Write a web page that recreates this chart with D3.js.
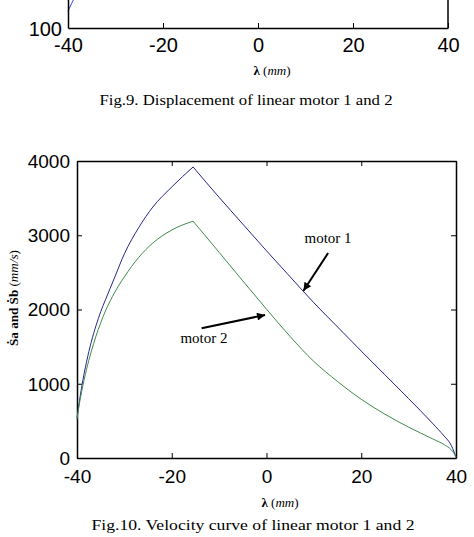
<!DOCTYPE html>
<html lang="en">
<head>
<meta charset="utf-8">
<title>Velocity curve of linear motor 1 and 2</title>
<script src="https://d3js.org/d3.v7.min.js"></script>
<style>
  body { margin: 0; background: #ffffff; }
  svg { display: block; }
  .tick text { font-family: "Liberation Sans", Arial, sans-serif; fill: #000; }
  .serif { font-family: "Liberation Serif", "Times New Roman", serif; fill: #000; }
</style>
</head>
<body>
<script>
// tick values shared by both panels
var lambdaTicks = [-40, -20, 0, 20, 40];
var speedTicks = [0, 1000, 2000, 3000, 4000];

// Fig.9 fragment (only the bottom of that plot is in view)
var dispLambda = [-40, -39.5, -39, -38, -37];
var dispMotor1 = [141, 155, 167, 190, 210];

// Fig.10 velocity curves
var lambda = [-40, -39.5, -39, -38, -37, -36, -35, -34, -33, -32, -30, -27, -24, -20, -15.5,
              -10, -5, 0, 5, 10, 15, 20, 25, 30, 35, 37.5, 39, 39.6, 40];
var motor1 = [540, 760, 960, 1290, 1560, 1780, 1970, 2130, 2285, 2440, 2750, 3100, 3380, 3650, 3920,
              3510, 3150, 2790, 2440, 2090, 1765, 1440, 1120, 800, 470, 295, 170, 80, 10];
var motor2 = [520, 730, 900, 1190, 1430, 1640, 1820, 1980, 2115, 2235, 2440, 2700, 2895, 3070, 3190,
              2770, 2385, 2005, 1635, 1300, 1030, 790, 590, 415, 260, 180, 110, 60, 15];
var peakIndex = 14;

// arrow annotations in data units: [tail, tip], and label anchors
var labels = ["motor 1", "motor 2"];
var arrowTail = [[13.0, 2760], [-13.7, 1747]];
var arrowTip = [[7.8, 2253], [-0.3, 1926]];
var labelAt = [[13.0, 2896], [-13.2, 1549]];

var width = 474, height = 537;

var svg = d3.select("body").append("svg")
    .attr("width", width)
    .attr("height", height);

var defs = svg.append("defs");
defs.append("marker")
    .attr("id", "head")
    .attr("viewBox", "0 0 10 10")
    .attr("refX", 10).attr("refY", 5)
    .attr("markerWidth", 6).attr("markerHeight", 4)
    .attr("markerUnits", "strokeWidth")
    .attr("orient", "auto")
  .append("path")
    .attr("d", "M0,0 L10,5 L0,10 Z")
    .attr("fill", "#000");

// ---------- top panel (Fig.9, cut off) ----------
var xTop = d3.scaleLinear().domain([-40, 40]).range([68, 448]);
var yTop = d3.scaleLinear().domain([100, 200]).range([28, -12]);

var topPanel = svg.append("g");

topPanel.append("path")
    .datum(d3.zip(dispLambda, dispMotor1))
    .attr("fill", "none")
    .attr("stroke", "#3a3ac8")
    .attr("stroke-width", 1)
    .attr("d", d3.line().x(d => xTop(d[0])).y(d => yTop(d[1])).curve(d3.curveMonotoneX));

topPanel.append("g")
    .attr("transform", "translate(0," + yTop(100) + ")")
    .call(d3.axisBottom(xTop).tickValues(lambdaTicks).tickFormat(d => String(d))
        .tickSizeInner(-5).tickSizeOuter(0).tickPadding(10))
    .call(g => g.selectAll("text").attr("font-size", 20))
    .call(g => g.select(".domain").attr("stroke-width", 1.5));

topPanel.append("g")
    .attr("transform", "translate(" + xTop(-40) + ",0)")
    .call(d3.axisLeft(yTop).tickValues([100]).tickSizeInner(0).tickSizeOuter(0).tickPadding(6))
    .call(g => g.selectAll("text").attr("font-size", 20).attr("dy", "0.35em"))
    .call(g => g.select(".domain").attr("stroke-width", 1.5));

topPanel.append("line")
    .attr("x1", xTop(40)).attr("x2", xTop(40))
    .attr("y1", 0).attr("y2", yTop(100))
    .attr("stroke", "#000").attr("stroke-width", 1.5);

topPanel.append("text").attr("class", "serif")
    .attr("x", 272).attr("y", 75)
    .attr("text-anchor", "middle").attr("font-size", 13)
    .call(t => {
      t.append("tspan").attr("font-weight", "bold").text("λ");
      t.append("tspan").text(" (");
      t.append("tspan").attr("font-style", "italic").text("mm");
      t.append("tspan").text(")");
    });

topPanel.append("text").attr("class", "serif")
    .attr("x", 246).attr("y", 105)
    .attr("text-anchor", "middle").attr("font-size", 15)
    .attr("textLength", 293).attr("lengthAdjust", "spacingAndGlyphs")
    .text("Fig.9. Displacement of linear motor 1 and 2");

// ---------- bottom panel (Fig.10) ----------
var x = d3.scaleLinear().domain([-40, 40]).range([77, 456]);
var y = d3.scaleLinear().domain([0, 4000]).range([458, 161]);

var plot = svg.append("g");

// inner ticks on the top and right edges (mirrored box)
plot.append("g")
    .attr("transform", "translate(0," + y(4000) + ")")
    .call(d3.axisTop(x).tickValues(lambdaTicks).tickFormat("").tickSizeInner(-5).tickSizeOuter(0))
    .call(g => g.select(".domain").attr("stroke-width", 1.5));

plot.append("g")
    .attr("transform", "translate(" + x(40) + ",0)")
    .call(d3.axisRight(y).tickValues(speedTicks).tickFormat("").tickSizeInner(-5).tickSizeOuter(0))
    .call(g => g.select(".domain").attr("stroke-width", 1.5));

plot.append("g")
    .attr("transform", "translate(0," + y(0) + ")")
    .call(d3.axisBottom(x).tickValues(lambdaTicks).tickFormat(d => String(d))
        .tickSizeInner(-5).tickSizeOuter(0).tickPadding(12))
    .call(g => g.selectAll("text").attr("font-size", 19))
    .call(g => g.select(".domain").attr("stroke-width", 1.5));

plot.append("g")
    .attr("transform", "translate(" + x(-40) + ",0)")
    .call(d3.axisLeft(y).tickValues(speedTicks).tickFormat(d => String(d))
        .tickSizeInner(-5).tickSizeOuter(0).tickPadding(7))
    .call(g => g.selectAll("text").attr("font-size", 19).attr("dy", "0.34em"))
    .call(g => g.select(".domain").attr("stroke-width", 1.5));

// curves: rising and falling halves drawn separately so the peak stays sharp
var line = d3.line()
    .x(d => x(d[0]))
    .y(d => y(d[1]))
    .curve(d3.curveMonotoneX);

var series = [
  { values: motor1, color: "#26268c" },
  { values: motor2, color: "#3f8a4c" }
];

series.forEach(function(s) {
  var pts = d3.zip(lambda, s.values);
  [pts.slice(0, peakIndex + 1), pts.slice(peakIndex)].forEach(function(part) {
    plot.append("path")
        .datum(part)
        .attr("fill", "none")
        .attr("stroke", s.color)
        .attr("stroke-width", 1)
        .attr("d", line);
  });
});

// arrows and labels
labels.forEach(function(name, i) {
  plot.append("line")
      .attr("x1", x(arrowTail[i][0])).attr("y1", y(arrowTail[i][1]))
      .attr("x2", x(arrowTip[i][0])).attr("y2", y(arrowTip[i][1]))
      .attr("stroke", "#000").attr("stroke-width", 2)
      .attr("marker-end", "url(#head)");
  plot.append("text").attr("class", "serif")
      .attr("x", x(labelAt[i][0])).attr("y", y(labelAt[i][1]))
      .attr("text-anchor", "middle").attr("font-size", 15)
      .text(name);
});

// axis titles and caption
plot.append("text").attr("class", "serif")
    .attr("x", 280).attr("y", 507)
    .attr("text-anchor", "middle").attr("font-size", 13)
    .call(t => {
      t.append("tspan").attr("font-weight", "bold").text("λ");
      t.append("tspan").text(" (");
      t.append("tspan").attr("font-style", "italic").text("mm");
      t.append("tspan").text(")");
    });

plot.append("text").attr("class", "serif")
    .attr("transform", "translate(18,298) rotate(-90)")
    .attr("text-anchor", "middle").attr("font-size", 12)
    .attr("textLength", 96).attr("lengthAdjust", "spacingAndGlyphs")
    .call(t => {
      t.append("tspan").attr("font-weight", "bold").text("Ṡa and Ṡb");
      t.append("tspan").text(" (");
      t.append("tspan").attr("font-style", "italic").text("mm/s");
      t.append("tspan").text(")");
    });

plot.append("text").attr("class", "serif")
    .attr("x", 253).attr("y", 530)
    .attr("text-anchor", "middle").attr("font-size", 15)
    .attr("textLength", 323).attr("lengthAdjust", "spacingAndGlyphs")
    .text("Fig.10. Velocity curve of linear motor 1 and 2");
</script>
</body>
</html>
